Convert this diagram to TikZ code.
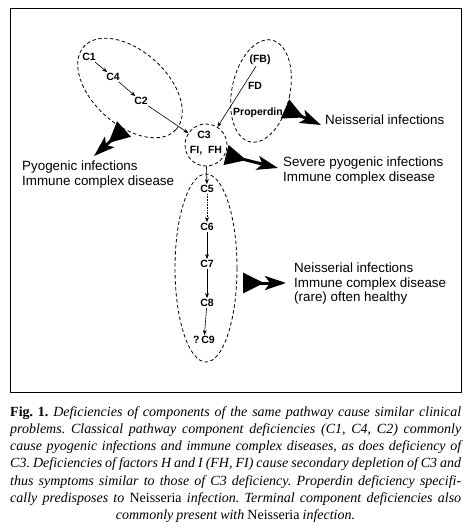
\documentclass[tikz,border=0pt]{standalone}
\usepackage{fontspec}
\setmainfont{Liberation Serif}
\setsansfont{Liberation Sans}
\usetikzlibrary{arrows.meta,shapes.geometric}
\newcommand\apretado{\frenchspacing\spaceskip=0.22em plus 1em minus 0.08em\relax}

\begin{document}
\begin{tikzpicture}[x=1pt,y=-1pt,
  comp/.style={font=\sffamily\bfseries\fontsize{10.5}{11}\selectfont, inner sep=1pt},
  grupo/.style={draw, ellipse, dash pattern=on 3.5pt off 2.5pt, line width=0.8pt, inner sep=0pt},
  flecha/.style={-{Stealth[length=5pt,width=4pt]}, line width=0.6pt},
  gorda/.style={line width=3pt, {Triangle[reversed,length=21pt,width=20pt]}-{Stealth[length=21pt,width=14pt,inset=5pt]}},
  texto/.style={font=\sffamily\fontsize{13.4}{14.5}\selectfont, align=left, inner sep=0pt},
  leyenda/.style={font=\itshape\fontsize{14}{15}\selectfont\apretado, inner sep=0pt, anchor=base west}]
  \useasboundingbox (0,0) rectangle (474,532);

  % Marco
  \draw[line width=0.9pt] (10,8) rectangle (461,392);

  % Grupos
  \node[grupo, minimum width=124pt, minimum height=74pt, rotate=-42] (clasica) at (130,88) {};
  \node[grupo, minimum width=58pt, minimum height=104pt, rotate=-12] (alterna) at (261,91) {};
  \node[grupo, minimum width=62pt, minimum height=188pt] (terminal) at (206,268) {};
  \node[grupo, circle, minimum size=42pt] (c3) at (206,145) {};

  % Via clasica
  \node[comp] (c1) at (89,57) {C1};
  \node[comp] (c4) at (113,77) {C4};
  \node[comp] (c2) at (141,101) {C2};
  \draw[flecha] (c1) -- (c4);
  \draw[flecha] (c4) -- (c2);
  \draw[flecha] (c2) -- (c3);

  % Via alterna
  \node[comp] (fb) at (260,60) {(FB)};
  \node[comp] (fd) at (255,86) {FD};
  \node[comp] (properdin) at (258,113) {Properdin};
  \draw[flecha] (fb) -- (c3);

  % C3
  \node[comp] (c3lbl) at (204,135) {C3};
  \node[comp] (fifh) at (206,151) {FI,\ \ FH};

  % Via terminal
  \node[comp] (c5) at (207,189) {C5};
  \node[comp] (c6) at (207,227) {C6};
  \node[comp] (c7) at (207,264) {C7};
  \node[comp] (c8) at (207,303) {C8};
  \node[comp] (c9) at (204,340) {?\,C9};
  \draw[flecha] (c3) -- (c5);
  \draw[flecha, densely dotted] (c5) -- (c6);
  \draw[flecha] (c6) -- (c7);
  \draw[flecha] (c7) -- (c8);
  \draw[flecha] (c8) -- (c9);

  % Cuadros clinicos
  \node[texto, anchor=north west] (pyo) at (22,161) {Pyogenic infections\\Immune complex disease};
  \node[texto, anchor=west] (neis) at (325,120) {Neisserial infections};
  \node[texto, anchor=north west] (severe) at (283,157) {Severe pyogenic infections\\Immune complex disease};
  \node[texto, anchor=north west] (termtxt) at (294,263) {Neisserial infections\\Immune complex disease\\(rare) often healthy};

  % Flechas gordas
  \coordinate (g1a) at (124,129);
  \coordinate (g1b) at (94,156);
  \coordinate (g2a) at (285,109);
  \coordinate (g2b) at (321,125);
  \coordinate (g3a) at (226,155);
  \coordinate (g3b) at (278,168);
  \coordinate (g4a) at (243,283);
  \coordinate (g4b) at (286,283);
  \draw[gorda] (g1a) -- (g1b);
  \draw[gorda] (g2a) -- (g2b);
  \draw[gorda] (g3a) -- (g3b);
  \draw[gorda] (g4a) -- (g4b);

  % Leyenda
  \node[leyenda] (l1) at (10,416) {\makebox[451pt][s]{\upshape\bfseries Fig. 1. \mdseries\itshape Deficiencies of components of the same pathway cause similar clinical}};
  \node[leyenda] (l2) at (10,433.3) {\makebox[451pt][s]{problems. Classical pathway component deficiencies (C1, C4, C2) commonly}};
  \node[leyenda] (l3) at (10,450.6) {\makebox[451pt][s]{cause pyogenic infections and immune complex diseases, as does deficiency of}};
  \node[leyenda] (l4) at (10,467.9) {\makebox[451pt][s]{C3. Deficiencies of factors H and I (FH, FI) cause secondary depletion of C3 and}};
  \node[leyenda] (l5) at (10,485.2) {\makebox[451pt][s]{thus symptoms similar to those of C3 deficiency. Properdin deficiency specifi-}};
  \node[leyenda] (l6) at (10,502.5) {\makebox[451pt][s]{cally predisposes to \upshape Neisseria \itshape infection. Terminal component deficiencies also}};
  \node[leyenda, anchor=base] (l7) at (235.5,519.8) {commonly present with \upshape Neisseria \itshape infection.};
\end{tikzpicture}
\end{document}
